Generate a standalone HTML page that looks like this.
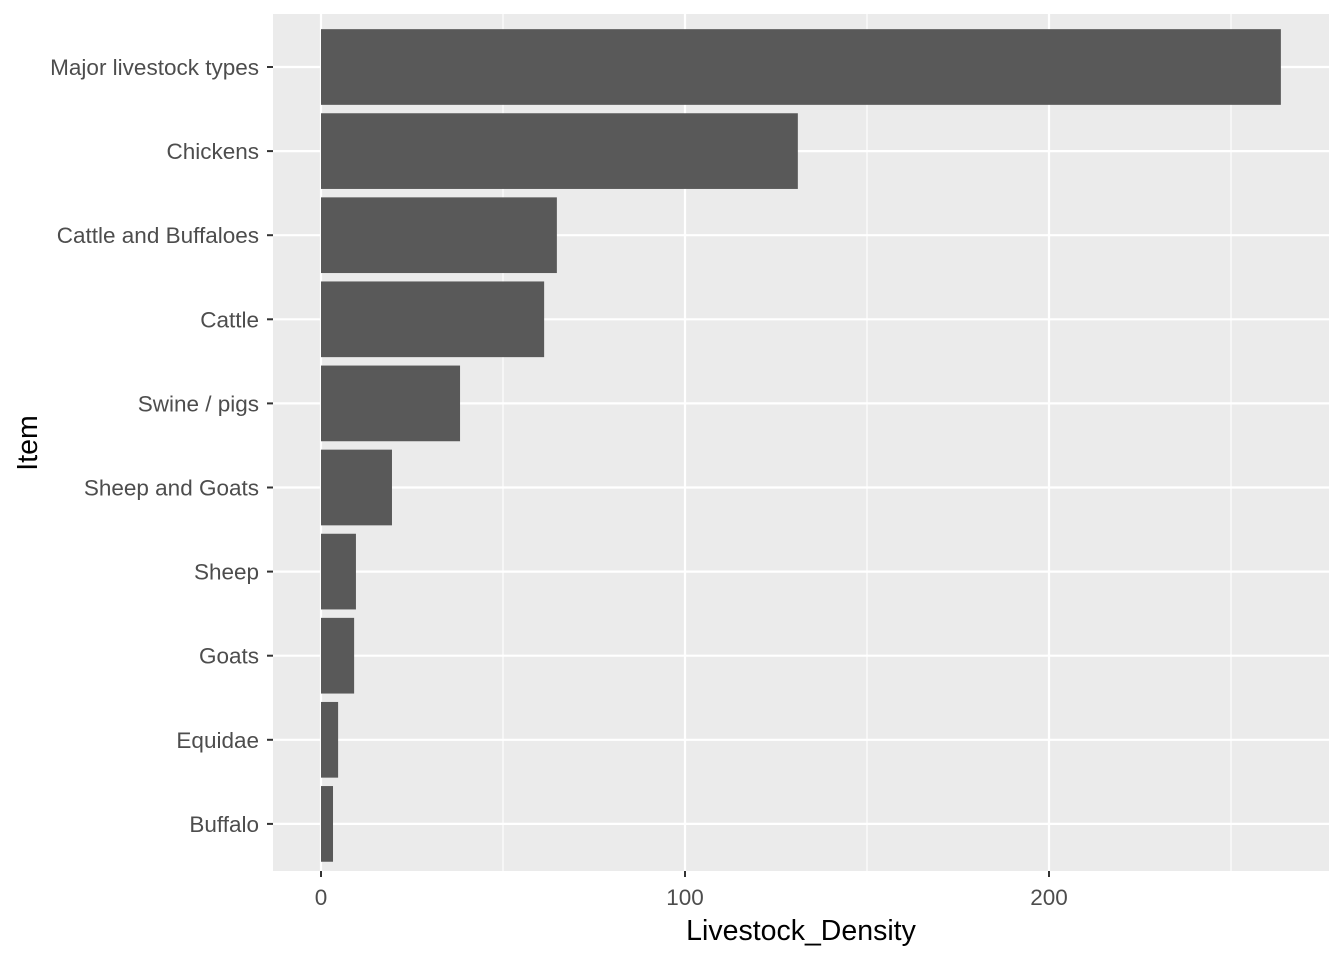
<!DOCTYPE html>
<html><head><meta charset="utf-8"><style>
body{margin:0;background:#fff;}
svg text{font-family:"Liberation Sans",Arial,sans-serif;}
</style></head><body>
<svg id="chart" width="1344" height="960" xmlns="http://www.w3.org/2000/svg">
<rect id="panel" x="273" y="14" width="1056" height="857" fill="#ebebeb"/>
<g id="grid"></g><g id="bars"></g><g id="yaxis"></g><g id="xaxis"></g>
<text x="801" y="940" font-size="28.5" text-anchor="middle" fill="#000">Livestock_Density</text>
<text transform="translate(37,443) rotate(-90)" font-size="28.5" text-anchor="middle" fill="#000">Item</text>
</svg>
<script>
const categories=["Major livestock types","Chickens","Cattle and Buffaloes","Cattle","Swine / pigs","Sheep and Goats","Sheep","Goats","Equidae","Buffalo"];
const values=[263.7,131.0,64.8,61.3,38.2,19.5,9.6,9.1,4.7,3.3];
const xTicks=[0,100,200];
const xMinor=[50,150,250];
const NS="http://www.w3.org/2000/svg";
const px0=273,px1=1329,py0=14,py1=871;
const x0=321,xScale=3.64;
function xs(v){return x0+v*xScale;}
const step=84.1;
function yc(i){return 67+step*i;}
function mk(tag,attrs,parent){const e=document.createElementNS(NS,tag);for(const k in attrs)e.setAttribute(k,attrs[k]);document.getElementById(parent).appendChild(e);return e;}
xMinor.forEach(t=>{const l=mk('line',{x1:xs(t),x2:xs(t),y1:py0,y2:py1,stroke:'#fff','stroke-width':1.1},'grid');

});
xTicks.forEach(t=>{const l=mk('line',{x1:xs(t),x2:xs(t),y1:py0,y2:py1,stroke:'#fff','stroke-width':2.2},'grid');


const tk=mk('line',{x1:xs(t),x2:xs(t),y1:py1,y2:py1+6,stroke:'#333','stroke-width':2},'xaxis');


const tx=mk('text',{x:xs(t),y:905,'font-size':22.5,'text-anchor':'middle',fill:'#4d4d4d'},'xaxis');
tx.textContent=t;

});
categories.forEach((c,i)=>{const y=yc(i);
const g=mk('line',{x1:px0,x2:px1,y1:y,y2:y,stroke:'#fff','stroke-width':2.2},'grid');


const bh=step*0.9;
const b=mk('rect',{x:xs(0),y:y-bh/2,width:xs(values[i])-xs(0),height:bh,fill:'#595959'},'bars');


const tk=mk('line',{x1:px0-6,x2:px0,y1:y,y2:y,stroke:'#333','stroke-width':2},'yaxis');


const tx=mk('text',{x:px0-14,y:y+8,'font-size':22.5,'text-anchor':'end',fill:'#4d4d4d'},'yaxis');
tx.textContent=c;

});
</script>
</body></html>
